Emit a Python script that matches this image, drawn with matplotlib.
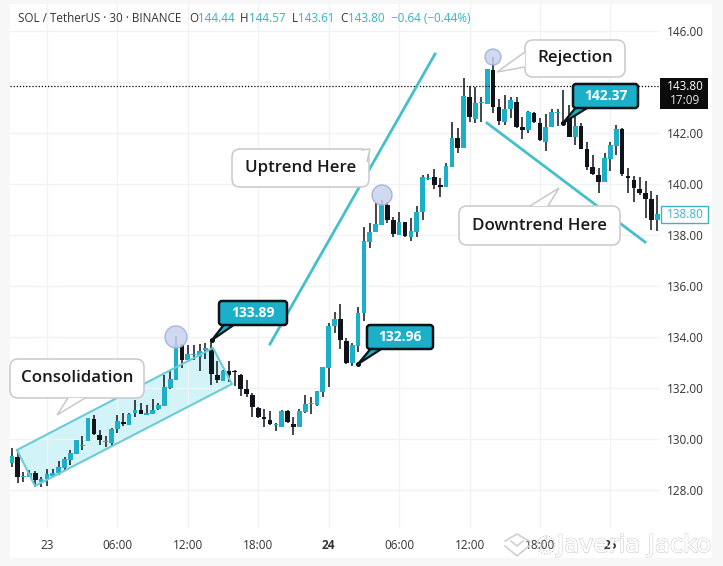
import matplotlib
matplotlib.use("Agg")
import matplotlib.pyplot as plt
import matplotlib.patheffects as pe
from matplotlib.patches import Circle, FancyBboxPatch, Polygon, Rectangle
import numpy as np

# candle index 0 is the first bar on the chart, one bar = 30 min
opens = [129.07, 129.28, 128.50, 128.52, 128.68, 128.32, 128.45, 128.55, 128.66, 128.85,
         129.18, 129.42, 129.73, 129.94, 130.80, 130.15, 129.87, 129.86, 130.38, 130.68,
         130.55, 131.01, 131.12, 130.96, 130.98, 131.17, 131.31, 132.02, 132.32, 133.70,
         133.08, 133.28, 133.23, 133.49, 133.52, 132.51, 132.29, 132.68, 132.67, 132.51,
         131.95, 131.74, 131.22, 130.85, 130.75, 130.53, 130.49, 131.11, 130.59, 130.46,
         131.06, 131.38, 131.34, 131.86, 132.80, 134.45, 134.70, 133.86, 132.97, 133.65,
         134.93, 137.74, 138.13, 138.40, 139.18, 138.59, 138.00, 138.50, 137.91, 138.13,
         138.89, 140.20, 140.27, 139.95, 139.87, 140.68, 141.82, 141.40, 143.42, 142.55,
         143.17, 143.14, 144.47, 143.04, 142.42, 142.93, 143.23, 142.23, 142.10, 142.80,
         142.41, 141.66, 142.23, 142.79, 142.45, 142.67, 141.83, 142.28, 141.36, 140.68,
         140.37, 140.06, 140.97, 141.49, 142.15, 140.32, 140.16, 139.81, 139.66, 139.40,
         138.57]
highs = [129.63, 129.51, 128.72, 128.78, 128.76, 128.50, 128.81, 128.81, 129.14, 129.31,
         129.57, 129.96, 130.12, 130.81, 130.95, 130.36, 130.10, 130.42, 130.95, 131.01,
         131.01, 131.53, 131.40, 131.34, 131.57, 131.40, 132.51, 132.71, 134.04, 133.73,
         133.69, 133.69, 133.73, 133.78, 133.91, 133.04, 132.71, 133.04, 132.71, 132.55,
         132.32, 131.80, 131.25, 131.17, 131.08, 130.62, 131.14, 131.14, 130.88, 131.17,
         131.73, 131.64, 131.90, 132.84, 134.54, 135.00, 135.30, 133.95, 133.76, 135.19,
         138.33, 138.46, 139.25, 139.38, 139.31, 138.70, 138.89, 138.52, 138.66, 139.14,
         140.35, 140.40, 140.58, 140.22, 140.81, 142.45, 142.19, 144.15, 143.85, 143.82,
         143.40, 144.51, 145.00, 143.32, 143.49, 143.43, 143.43, 142.62, 142.88, 142.84,
         142.58, 142.75, 142.94, 142.93, 143.69, 143.10, 142.67, 142.38, 141.66, 141.14,
         140.62, 141.21, 141.66, 142.32, 142.18, 140.62, 140.32, 140.29, 140.10, 139.74,
         139.57]
lows = [128.91, 128.29, 128.33, 128.50, 128.13, 128.13, 128.17, 128.52, 128.59, 128.78,
        128.98, 129.42, 129.57, 129.94, 130.16, 129.77, 129.70, 129.70, 130.25, 130.51,
        130.55, 130.88, 130.97, 130.94, 130.98, 131.14, 131.31, 131.96, 132.32, 132.77,
        133.08, 133.10, 132.68, 133.13, 132.12, 132.21, 132.29, 132.25, 132.08, 131.69,
        131.66, 130.85, 130.81, 130.46, 130.55, 130.33, 130.49, 130.62, 130.16, 130.46,
        131.01, 130.97, 131.30, 131.64, 132.05, 134.15, 133.52, 132.94, 132.87, 133.43,
        134.64, 137.51, 138.13, 138.40, 138.49, 137.91, 138.00, 137.91, 137.78, 137.91,
        138.59, 140.17, 139.79, 139.51, 139.87, 140.68, 141.23, 141.40, 142.45, 142.38,
        142.45, 143.14, 142.80, 142.32, 142.32, 142.58, 142.18, 141.76, 141.99, 142.38,
        141.70, 141.31, 142.23, 142.28, 142.32, 141.83, 141.53, 141.36, 140.55, 140.36,
        139.66, 140.06, 140.53, 141.14, 140.32, 139.66, 139.31, 139.57, 138.66, 138.20,
        138.17]
closes = [129.33, 128.50, 128.55, 128.68, 128.39, 128.45, 128.63, 128.68, 128.91, 129.21,
          129.44, 129.96, 129.77, 130.81, 130.20, 129.96, 129.94, 130.38, 130.72, 130.59,
          130.98, 131.14, 130.98, 131.01, 131.14, 131.32, 132.03, 132.34, 133.73, 133.08,
          133.34, 133.32, 133.47, 133.56, 132.55, 132.32, 132.68, 132.51, 132.63, 131.95,
          131.77, 131.25, 130.88, 130.80, 130.59, 130.58, 131.11, 130.65, 130.49, 131.10,
          131.38, 131.40, 131.87, 132.81, 134.45, 134.71, 133.89, 132.97, 133.69, 134.93,
          137.77, 138.13, 138.42, 139.18, 138.59, 138.03, 138.51, 137.96, 138.17, 138.89,
          140.27, 140.25, 139.95, 139.90, 140.71, 141.82, 141.40, 143.45, 142.62, 143.17,
          143.21, 144.51, 143.04, 142.47, 142.93, 143.30, 142.23, 142.10, 142.83, 142.42,
          141.73, 142.23, 142.83, 142.81, 142.38, 141.83, 142.28, 141.36, 140.66, 140.40,
          140.06, 141.01, 141.52, 142.15, 140.40, 140.23, 139.83, 139.64, 139.40, 138.57,
          138.83]

date_ticks = [6, 18, 30, 42, 54, 66, 78, 90, 102]
date_labels = ["23", "06:00", "12:00", "18:00", "24", "06:00", "12:00", "18:00", "25"]
# the 144.00 label is hidden behind the last price tag on the scale
price_ticks = [128, 130, 132, 134, 136, 138, 140, 142, 144, 146]
price_labels = ["128.00", "130.00", "132.00", "134.00", "136.00", "138.00", "140.00", "142.00", "", "146.00"]
last_price = 143.80

TEAL = "#1cb0c8"
BLACK = "#10141a"
GRID = "#f0f3f5"
W, H = 723, 566

plt.rcParams["font.family"] = ["Open Sans", "DejaVu Sans"]

fig = plt.figure(figsize=(W / 100, H / 100), dpi=100, facecolor="#f7f7f7")

# bottom layer in image pixels: white page and the channel fill under the candles
under = fig.add_axes([0, 0, 1, 1], facecolor="none", zorder=1)
under.set_xlim(0, W)
under.set_ylim(H, 0)
under.axis("off")
under.add_patch(Rectangle((10, 4), 702, 554, fc="white", ec="none"))
under.add_patch(Polygon([(17, 450), (213, 348), (232, 384), (35, 486)], closed=True,
                        fc="#d2f3f7", ec="none"))

ax = fig.add_axes([10 / W, 1 - 528 / H, 650 / W, 524 / H], zorder=2)
ax.patch.set_alpha(0)
ax.set_xlim(-0.30, 110.45)
ax.set_ylim(126.51, 147.06)

for s in ax.spines.values():
    s.set_visible(False)
ax.grid(True, color=GRID, lw=1)
ax.set_axisbelow(True)

ax.yaxis.tick_right()
ax.set_yticks(price_ticks)
ax.set_yticklabels(price_labels, fontsize=8.5, color="#333333")
ax.set_xticks(date_ticks)
ax.set_xticklabels(date_labels, fontsize=8.5, color="#333333")
for lab in ax.get_xticklabels():
    if lab.get_text() in ("24", "25"):
        lab.set_fontweight("bold")
ax.tick_params(length=0, axis="x", pad=8)
ax.tick_params(length=0, axis="y", pad=5)

# candles
x = np.arange(len(opens))
o, h, l, c = map(np.array, (opens, highs, lows, closes))
up = c >= o
colors = np.where(up, TEAL, BLACK)
ax.vlines(x, l, h, color=BLACK, lw=1.1, zorder=3)
ax.bar(x, np.maximum(np.abs(c - o), 0.04), bottom=np.minimum(o, c), width=0.8,
       color=colors, lw=0, zorder=4)

ax.axhline(last_price + 0.04, color="black", lw=0.9, ls=(0, (1, 1.5)), zorder=5)

# top layer in image pixels for the hand drawn annotations
ov = fig.add_axes([0, 0, 1, 1], facecolor="none", zorder=3)
ov.set_xlim(0, W)
ov.set_ylim(H, 0)
ov.axis("off")

LINE = "#45bfca"
ov.plot([17, 213, 232, 35, 17], [450, 348, 384, 486, 450], color="#6ccbd4", lw=1.5, zorder=2)
ov.plot([270, 435], [344, 54], color=LINE, lw=2, zorder=2)
ov.plot([487, 645], [123, 242], color=LINE, lw=2, zorder=2)

for cx, cy, r in [(176, 337, 11), (382, 195, 10), (493, 57, 8)]:
    ov.add_patch(Circle((cx, cy), r, fc="#c9d3ee", ec="#9dacd8", lw=1, alpha=0.85, zorder=2))


def callout(x0, y0, x1, y1, tail, text, size=12.2):
    box = FancyBboxPatch((x0 + 7, y0 + 7), x1 - x0 - 14, y1 - y0 - 14,
                         boxstyle="round,pad=7,rounding_size=8", fc="white",
                         ec="#c9c9c9", lw=1.1, zorder=6)
    ov.add_patch(box)
    ov.add_patch(Polygon(tail, closed=False, fc="white", ec="#c9c9c9", lw=1.1, zorder=7))
    ov.text((x0 + x1) / 2, (y0 + y1) / 2, text, ha="center", va="center",
            fontsize=size, fontweight="semibold", color="#1a1a1a", zorder=8)


def price_tag(x0, y0, x1, y1, tail, dot, text):
    ov.add_patch(Polygon(tail, closed=True, fc=TEAL, ec="#0c1418", lw=1.6, zorder=6))
    box = FancyBboxPatch((x0 + 3, y0 + 3), x1 - x0 - 6, y1 - y0 - 6,
                         boxstyle="round,pad=3,rounding_size=3", fc=TEAL,
                         ec="#0c1418", lw=1.8, zorder=7)
    ov.add_patch(box)
    ov.plot(*dot, "o", color="#0c1418", ms=2.6, zorder=8)
    ov.text((x0 + x1) / 2, (y0 + y1) / 2, text, ha="center", va="center",
            fontsize=10, fontweight="bold", color="white", zorder=8)


callout(10, 359, 144, 398, [(68, 398), (57, 415), (85, 398)], "Consolidation")
callout(232, 149, 369, 187, [(367, 162), (370, 149), (361, 150)], "Uptrend Here")
callout(525, 40, 625, 77, [(525, 52), (497, 72), (525, 67)], "Rejection")
callout(459, 206, 620, 245, [(530, 206), (559, 188), (548, 206)], "Downtrend Here")

price_tag(219, 301, 287, 325, [(226, 322), (212, 340), (238, 322)], (212, 340), "133.89")
price_tag(367, 325, 433, 349, [(373, 346), (358, 364), (386, 346)], (358, 364), "132.96")
price_tag(573, 84, 638, 108, [(578, 105), (563, 123), (592, 105)], (563, 123), "142.37")

# price scale tags
ov.add_patch(Rectangle((660, 78), 48, 31, fc="#0b0b0b", ec="none", zorder=6))
ov.text(685, 86, "143.80", ha="center", va="center", fontsize=8.5, color="white", zorder=7)
ov.text(685, 100, "17:09", ha="center", va="center", fontsize=8.5, color="#e8e8e8", zorder=7)
ov.add_patch(Rectangle((661, 206), 47, 17, fc="white", ec="#38b6c6", lw=1, zorder=6))
ov.text(685, 214.5, "138.80", ha="center", va="center", fontsize=8.5, color="#38b6c6", zorder=7)

# header line
HDR = "#333333"
HVAL = "#35b3c0"
header = [(18, "SOL / TetherUS · 30 · BINANCE", HDR), (189, "O", HDR), (198, "144.44", HVAL),
          (240, "H", HDR), (249, "144.57", HVAL), (292, "L", HDR), (298, "143.61", HVAL),
          (340, "C", HDR), (348, "143.80", HVAL), (391, "−0.64 (−0.44%)", HVAL)]
for hx, txt, col in header:
    ov.text(hx, 19, txt, ha="left", va="center", fontsize=8.4, color=col, zorder=7)

# watermark
ov.text(557, 545, "Javeria Jacko", ha="left", va="center", fontsize=17.5, color="white",
        family="DejaVu Sans", zorder=9,
        path_effects=[pe.withStroke(linewidth=0.9, foreground="#c4c4c4"), pe.Normal()])
ov.plot([505, 517, 529], [541, 534, 541], color="#d0d0d0", lw=1.2, zorder=9)
ov.plot([505, 517, 529], [546, 556, 546], color="#d0d0d0", lw=1.2, zorder=9)
ov.plot([511, 517, 523], [541, 546, 541], color="#d0d0d0", lw=1.2, zorder=9)
for r in (3, 6, 9):
    ov.add_patch(Circle((546, 545), r, fc="none", ec="#b8b8b8", lw=0.8, ls=":", zorder=9))

fig.savefig("out.png", dpi=100, facecolor=fig.get_facecolor())
